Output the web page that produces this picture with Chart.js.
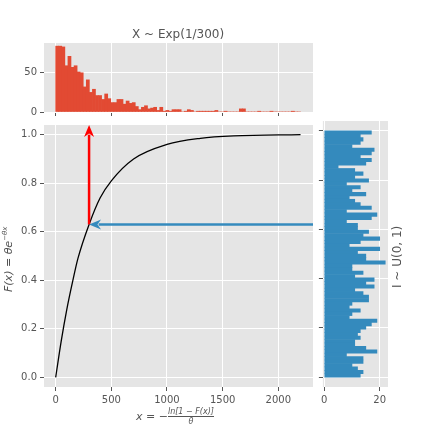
<!DOCTYPE html>
<html>
<head>
<meta charset="utf-8">
<script src="https://cdn.jsdelivr.net/npm/chart.js@4"></script>
<style>
  body { margin: 0; background: #fff; font-family: "DejaVu Sans", sans-serif; }
  #wrap { position: relative; width: 432px; height: 432px; }
  .box { position: absolute; }
  .txt { position: absolute; color: #555; white-space: nowrap; }
  .frac { display: inline-flex; flex-direction: column; vertical-align: middle; font-size: 8px; text-align: center; }
  .frac span:first-child { border-bottom: 1px solid #555; }
</style>
</head>
<body>
<div id="wrap">
  <div class="box" style="left:0;top:116px"><canvas id="main" width="318" height="316"></canvas></div>
  <div class="box" style="left:0;top:0"><canvas id="top" width="318" height="121"></canvas></div>
  <div class="box" style="left:318px;top:116px"><canvas id="right" width="114" height="316"></canvas></div>
  <div class="txt" style="left:132px;top:27px;font-size:12px">X ~ Exp(1/300)</div>
  <div class="txt" style="left:390px;top:288px;font-size:12px;transform:rotate(-90deg);transform-origin:left top">I ~ U(0, 1)</div>
  <div class="txt" style="left:136px;top:407px;font-size:11px;font-style:italic">x = −<span class="frac"><span>ln[1 − F(x)]</span><span>θ</span></span></div>
  <div class="txt" style="left:1px;top:292px;font-size:11px;font-style:italic;transform:rotate(-90deg);transform-origin:left top">F(x) = θe<sup style="font-size:7px">−θx</sup></div>
</div>
<script>
// top histogram of X, bin width 27.5 starting at 0
const binWidthX = 27.5;
const countsX = [84,84,83,59,71,57,59,51,50,32,41,25,29,21,21,16,23,17,12,12,16,16,10,14,11,12,7,3,6,8,4,5,6,2,6,1,
  2,1,3,3,3,0,1,3,2,0,1,1,1,1,1,1,2,0,
  0,1,0,0,0,0,4,4,0,0,0,0,1,0,0,0,1,0,0,0,0,0,0,1,0,0];
// right histogram of I, listed from top (1.0) downward
const countsI = [17,13,14,13,10,18,17,13,17,15,5,11,14,11,16,8,13,10,15,9,11,13,17,8,19,17,8,12,12,16,14,20,13,9,20,12,15,15,22,10,10,14,11,18,15,18,11,14,16,16,10,9,13,10,9,19,17,15,13,12,13,11,11,15,19,8,14,14,10,12,14,13];
// CDF curve
const curveX = [0,50,100,150,200,300,400,500,700,1000,1300,1600,2200];
const curveY = [0,0.15,0.28,0.39,0.49,0.63,0.74,0.81,0.90,0.96,0.985,0.995,1.0];
// arrows
const redArrow = { x0: 300, y0: 0.63, x1: 300, y1: 1.04 };
const blueArrow = { x0: 2312, y0: 0.63, x1: 300, y1: 0.63 };

const xMin = -105, xMax = 2312;
const xTicks = [0, 500, 1000, 1500, 2000];
const yTicks = [0, 0.2, 0.4, 0.6, 0.8, 1.0];
const tickCol = '#555';
const font = { family: 'DejaVu Sans', size: 10 };

const bgPlugin = {
  id: 'bg',
  beforeDraw(chart) {
    const { ctx, chartArea: a } = chart;
    ctx.save(); ctx.fillStyle = '#E5E5E5';
    ctx.fillRect(a.left, a.top, a.right - a.left, a.bottom - a.top);
    ctx.restore();
  }
};
function fit(w, h) {
  return axis => { if (w != null) axis.width = w; if (h != null) axis.height = h; };
}
function setTicks(list) {
  return a => { a.ticks = list.map(v => ({ value: v })); };
}
function grid() {
  return { color: '#fff', lineWidth: 1, tickColor: tickCol, tickLength: 4, offset: false };
}
const base = {
  animation: false, responsive: false, maintainAspectRatio: false,
  plugins: { legend: { display: false }, tooltip: { enabled: false } }
};

new Chart(document.getElementById('top'), {
  type: 'bar',
  data: { datasets: [{ data: countsX.map((c, i) => ({ x: i * binWidthX + binWidthX / 2, y: c })),
    backgroundColor: '#E24A33', barPercentage: 1, categoryPercentage: 1, grouped: false }] },
  options: { ...base,
    layout: { padding: { top: 43, right: 5 } },
    scales: {
      x: { type: 'linear', min: xMin, max: xMax, offset: false, border: { display: false },
        grid: grid(), ticks: { display: false }, afterFit: fit(null, 0), afterBuildTicks: setTicks(xTicks) },
      y: { min: 0, max: 88, border: { display: false }, grid: grid(),
        ticks: { color: tickCol, font }, afterFit: fit(44, null), afterBuildTicks: setTicks([0, 50]) }
    }
  },
  plugins: [bgPlugin]
});

const arrowPlugin = {
  id: 'arrows',
  afterDatasetsDraw(chart) {
    const { ctx, scales: { x, y } } = chart;
    function arrow(a, col) {
      const x0 = x.getPixelForValue(a.x0), y0 = y.getPixelForValue(a.y0);
      const x1 = x.getPixelForValue(a.x1), y1 = y.getPixelForValue(a.y1);
      const ang = Math.atan2(y1 - y0, x1 - x0), L = 12, W = 5;
      const c = Math.cos(ang), s = Math.sin(ang);
      ctx.save(); ctx.strokeStyle = col; ctx.fillStyle = col; ctx.lineWidth = 2.5;
      ctx.beginPath(); ctx.moveTo(x0, y0); ctx.lineTo(x1 - c * L * 0.8, y1 - s * L * 0.8); ctx.stroke();
      ctx.beginPath(); ctx.moveTo(x1, y1);
      ctx.lineTo(x1 - c * L - s * W, y1 - s * L + c * W);
      ctx.lineTo(x1 - c * L * 0.7, y1 - s * L * 0.7);
      ctx.lineTo(x1 - c * L + s * W, y1 - s * L - c * W);
      ctx.closePath(); ctx.fill(); ctx.restore();
    }
    arrow(redArrow, '#FF0000');
    arrow(blueArrow, '#348ABD');
  }
};

new Chart(document.getElementById('main'), {
  type: 'line',
  data: { datasets: [{ data: curveX.map((v, i) => ({ x: v, y: curveY[i] })),
    borderColor: '#000', borderWidth: 1.3, pointRadius: 0, cubicInterpolationMode: 'monotone' }] },
  options: { ...base,
    layout: { padding: { top: -3, right: 5 } },
    scales: {
      x: { type: 'linear', min: xMin, max: xMax, border: { display: false }, grid: grid(),
        ticks: { color: tickCol, font, callback: v => String(v) }, afterFit: fit(null, 45), afterBuildTicks: setTicks(xTicks) },
      y: { type: 'linear', min: -0.04, max: 1.04, border: { display: false }, grid: grid(),
        ticks: { color: tickCol, font, callback: v => v.toFixed(1) }, afterFit: fit(44, null), afterBuildTicks: setTicks(yTicks) }
    }
  },
  plugins: [bgPlugin, arrowPlugin]
});

const binI = 1 / countsI.length;
new Chart(document.getElementById('right'), {
  type: 'bar',
  data: { datasets: [{ data: countsI.map((c, i) => ({ y: 1 - (i + 0.5) * binI, x: c })),
    backgroundColor: '#348ABD', barPercentage: 1, categoryPercentage: 1, grouped: false }] },
  options: { ...base, indexAxis: 'y',
    layout: { padding: { top: 5, right: 44 } },
    scales: {
      x: { type: 'linear', min: -0.5, max: 23, border: { display: false }, grid: grid(),
        ticks: { color: tickCol, font }, afterFit: fit(null, 45), afterBuildTicks: setTicks([0, 20]) },
      y: { type: 'linear', min: -0.04, max: 1.04, offset: false, border: { display: false }, grid: grid(),
        ticks: { display: false, autoSkip: false }, afterFit: fit(4, null), afterBuildTicks: setTicks(yTicks) }
    }
  },
  plugins: [bgPlugin]
});
</script>
</body>
</html>
